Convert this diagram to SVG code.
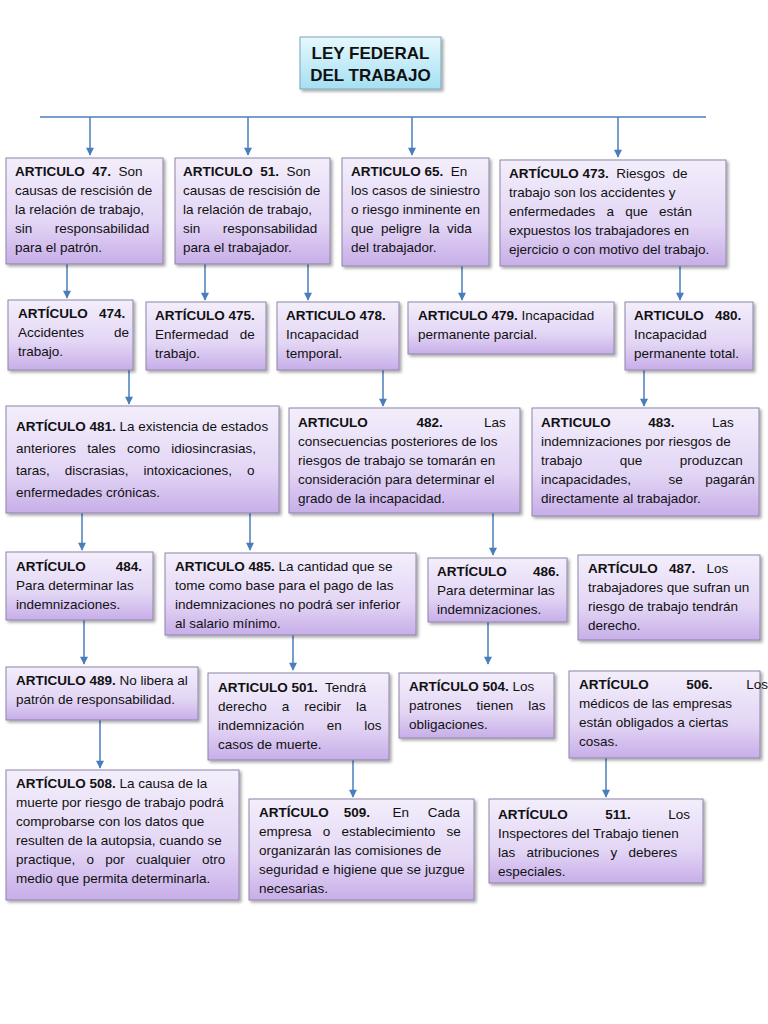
<svg xmlns="http://www.w3.org/2000/svg" width="768" height="1024" viewBox="0 0 768 1024">
<defs>
<linearGradient id="pg" x1="0" y1="0" x2="0" y2="1"><stop offset="0" stop-color="#f3eefb"/><stop offset="0.6" stop-color="#e3d6f5"/><stop offset="1" stop-color="#c7aee8"/></linearGradient>
<linearGradient id="cg" x1="0" y1="0" x2="0" y2="1"><stop offset="0" stop-color="#e6f8fd"/><stop offset="1" stop-color="#a5e0f3"/></linearGradient>
<marker id="ar" viewBox="0 0 10 10" refX="9" refY="5" markerWidth="9" markerHeight="8" orient="auto" markerUnits="userSpaceOnUse"><path d="M0,0 L10,5 L0,10 z" fill="#4a7ebb"/></marker>
<filter id="sh" x="-5%" y="-5%" width="115%" height="120%"><feDropShadow dx="2" dy="2" stdDeviation="1.5" flood-color="#000" flood-opacity="0.35"/></filter>
</defs>
<style>
.b{fill:url(#pg);stroke:#8f84a8;stroke-width:1;filter:url(#sh)}
.t{font-family:"Liberation Sans",Arial,sans-serif;font-size:13.5px;fill:#111;white-space:pre}
.h{font-weight:bold}
.ti{font-family:"Liberation Sans",Arial,sans-serif;font-size:17px;font-weight:bold;fill:#111}
.c{stroke:#4a7ebb;stroke-width:1.5;fill:none}
.c.a{marker-end:url(#ar)}
</style>
<rect width="768" height="1024" fill="#fff"/>
<g id="title"><rect x="300" y="37" width="141" height="52" fill="url(#cg)" stroke="#7aa6b8" filter="url(#sh)"/>
<text class="ti" x="370.5" y="59" text-anchor="middle">LEY FEDERAL</text><text class="ti" x="370.5" y="81" text-anchor="middle">DEL TRABAJO</text></g>
<g id="connectors">
<line class="c" x1="40" y1="117" x2="706" y2="117"/>
<line class="c a" x1="90" y1="117" x2="90" y2="155"/>
<line class="c a" x1="248" y1="117" x2="248" y2="155"/>
<line class="c a" x1="412" y1="117" x2="412" y2="155"/>
<line class="c a" x1="618" y1="117" x2="618" y2="157"/>
<line class="c a" x1="67" y1="264" x2="67" y2="298"/>
<line class="c a" x1="205" y1="264" x2="205" y2="300"/>
<line class="c a" x1="308" y1="264" x2="308" y2="300"/>
<line class="c a" x1="462" y1="266" x2="462" y2="300"/>
<line class="c a" x1="680" y1="266" x2="680" y2="300"/>
<line class="c a" x1="129" y1="370" x2="129" y2="404"/>
<line class="c a" x1="383" y1="370" x2="383" y2="406"/>
<line class="c a" x1="644" y1="370" x2="644" y2="406"/>
<line class="c a" x1="82" y1="513" x2="82" y2="550"/>
<line class="c a" x1="250" y1="513" x2="250" y2="550"/>
<line class="c a" x1="493" y1="513" x2="493" y2="555"/>
<line class="c a" x1="84" y1="620" x2="84" y2="664"/>
<line class="c a" x1="293" y1="635" x2="293" y2="670"/>
<line class="c a" x1="488" y1="622" x2="488" y2="664"/>
<line class="c a" x1="100" y1="720" x2="100" y2="768"/>
<line class="c a" x1="353" y1="760" x2="353" y2="797"/>
<line class="c a" x1="606" y1="758" x2="606" y2="797"/>
</g>
<g id="a47"><rect class="b" x="6" y="158" width="157" height="106"/><text class="t" x="15" y="176"><tspan class="h">ARTICULO  47.</tspan>  Son</text><text class="t" x="15" y="195">causas de rescisión de</text><text class="t" x="15" y="214">la relación de trabajo,</text><text class="t" x="15" y="233">sin      responsabilidad</text><text class="t" x="15" y="252">para el patrón.</text></g>
<g id="a51"><rect class="b" x="175" y="158" width="155" height="106"/><text class="t" x="183" y="176"><tspan class="h">ARTICULO  51.</tspan>  Son</text><text class="t" x="183" y="195">causas de rescisión de</text><text class="t" x="183" y="214">la relación de trabajo,</text><text class="t" x="183" y="233">sin      responsabilidad</text><text class="t" x="183" y="252">para el trabajador.</text></g>
<g id="a65"><rect class="b" x="342" y="158" width="147" height="108"/><text class="t" x="351" y="176"><tspan class="h">ARTICULO 65.</tspan>  En</text><text class="t" x="351" y="195">los casos de siniestro</text><text class="t" x="351" y="214">o riesgo inminente en</text><text class="t" x="351" y="233">que  peligre  la  vida</text><text class="t" x="351" y="252">del trabajador.</text></g>
<g id="a473"><rect class="b" x="500" y="160" width="226" height="106"/><text class="t" x="509" y="178"><tspan class="h">ARTÍCULO 473.</tspan>  Riesgos  de</text><text class="t" x="509" y="197">trabajo son los accidentes y</text><text class="t" x="509" y="216">enfermedades   a   que   están</text><text class="t" x="509" y="235">expuestos los trabajadores en</text><text class="t" x="509" y="254">ejercicio o con motivo del trabajo.</text></g>
<g id="a474"><rect class="b" x="8" y="300" width="125" height="70"/><text class="t" x="18" y="318"><tspan class="h">ARTÍCULO   474.</tspan></text><text class="t" x="18" y="337">Accidentes        de</text><text class="t" x="18" y="356">trabajo.</text></g>
<g id="a475"><rect class="b" x="146" y="302" width="120" height="68"/><text class="t" x="155" y="320"><tspan class="h">ARTÍCULO 475.</tspan></text><text class="t" x="155" y="339">Enfermedad   de</text><text class="t" x="155" y="358">trabajo.</text></g>
<g id="a478"><rect class="b" x="277" y="302" width="122" height="68"/><text class="t" x="286" y="320"><tspan class="h">ARTICULO 478.</tspan></text><text class="t" x="286" y="339">Incapacidad</text><text class="t" x="286" y="358">temporal.</text></g>
<g id="a479"><rect class="b" x="408" y="302" width="206" height="52"/><text class="t" x="418" y="320"><tspan class="h">ARTICULO 479.</tspan> Incapacidad</text><text class="t" x="418" y="339">permanente parcial.</text></g>
<g id="a480"><rect class="b" x="625" y="302" width="128" height="68"/><text class="t" x="634" y="320"><tspan class="h">ARTICULO   480.</tspan></text><text class="t" x="634" y="339">Incapacidad</text><text class="t" x="634" y="358">permanente total.</text></g>
<g id="a481"><rect class="b" x="6" y="406" width="273" height="107"/><text class="t" x="16" y="431"><tspan class="h">ARTÍCULO 481.</tspan> La existencia de estados</text><text class="t" x="16" y="453">anteriores   tales   como   idiosincrasias,</text><text class="t" x="16" y="475">taras,    discrasias,    intoxicaciones,    o</text><text class="t" x="16" y="497">enfermedades crónicas.</text></g>
<g id="a482"><rect class="b" x="289" y="408" width="231" height="105"/><text class="t" x="298" y="427"><tspan class="h">ARTICULO             482.</tspan>           Las</text><text class="t" x="298" y="446">consecuencias posteriores de los</text><text class="t" x="298" y="465">riesgos de trabajo se tomarán en</text><text class="t" x="298" y="484">consideración para determinar el</text><text class="t" x="298" y="503">grado de la incapacidad.</text></g>
<g id="a483"><rect class="b" x="532" y="408" width="227" height="108"/><text class="t" x="541" y="427"><tspan class="h">ARTICULO          483.</tspan>          Las</text><text class="t" x="541" y="446">indemnizaciones por riesgos de</text><text class="t" x="541" y="465">trabajo          que          produzcan</text><text class="t" x="541" y="484">incapacidades,          se      pagarán</text><text class="t" x="541" y="503">directamente al trabajador.</text></g>
<g id="a484"><rect class="b" x="6" y="552" width="147" height="68"/><text class="t" x="16" y="571"><tspan class="h">ARTÍCULO        484.</tspan></text><text class="t" x="16" y="590">Para determinar las</text><text class="t" x="16" y="609">indemnizaciones.</text></g>
<g id="a485"><rect class="b" x="165" y="553" width="251" height="82"/><text class="t" x="175" y="571"><tspan class="h">ARTICULO 485.</tspan> La cantidad que se</text><text class="t" x="175" y="590">tome como base para el pago de las</text><text class="t" x="175" y="609">indemnizaciones no podrá ser inferior</text><text class="t" x="175" y="628">al salario mínimo.</text></g>
<g id="a486"><rect class="b" x="428" y="558" width="139" height="64"/><text class="t" x="437" y="576"><tspan class="h">ARTÍCULO       486.</tspan></text><text class="t" x="437" y="595">Para determinar las</text><text class="t" x="437" y="614">indemnizaciones.</text></g>
<g id="a487"><rect class="b" x="578" y="555" width="182" height="85"/><text class="t" x="588" y="573"><tspan class="h">ARTÍCULO   487.</tspan>   Los</text><text class="t" x="588" y="592">trabajadores que sufran un</text><text class="t" x="588" y="611">riesgo de trabajo tendrán</text><text class="t" x="588" y="630">derecho.</text></g>
<g id="a489"><rect class="b" x="6" y="667" width="192" height="53"/><text class="t" x="16" y="685"><tspan class="h">ARTICULO 489.</tspan> No libera al</text><text class="t" x="16" y="704">patrón de responsabilidad.</text></g>
<g id="a501"><rect class="b" x="208" y="673" width="181" height="87"/><text class="t" x="218" y="692"><tspan class="h">ARTICULO 501.</tspan>  Tendrá</text><text class="t" x="218" y="711">derecho    a    recibir    la</text><text class="t" x="218" y="730">indemnización      en      los</text><text class="t" x="218" y="749">casos de muerte.</text></g>
<g id="a504"><rect class="b" x="399" y="673" width="155" height="65"/><text class="t" x="409" y="691"><tspan class="h">ARTÍCULO 504.</tspan> Los</text><text class="t" x="409" y="710">patrones    tienen    las</text><text class="t" x="409" y="729">obligaciones.</text></g>
<g id="a506"><rect class="b" x="569" y="671" width="191" height="87"/><text class="t" x="579" y="689"><tspan class="h">ARTÍCULO          506.</tspan>         Los</text><text class="t" x="579" y="708">médicos de las empresas</text><text class="t" x="579" y="727">están obligados a ciertas</text><text class="t" x="579" y="746">cosas.</text></g>
<g id="a508"><rect class="b" x="6" y="770" width="233" height="130"/><text class="t" x="16" y="788"><tspan class="h">ARTÍCULO 508.</tspan> La causa de la</text><text class="t" x="16" y="807">muerte por riesgo de trabajo podrá</text><text class="t" x="16" y="826">comprobarse con los datos que</text><text class="t" x="16" y="845">resulten de la autopsia, cuando se</text><text class="t" x="16" y="864">practique,   o   por   cualquier   otro</text><text class="t" x="16" y="883">medio que permita determinarla.</text></g>
<g id="a509"><rect class="b" x="249" y="799" width="225" height="101"/><text class="t" x="259" y="817"><tspan class="h">ARTÍCULO    509.</tspan>      En     Cada</text><text class="t" x="259" y="836">empresa   o   establecimiento   se</text><text class="t" x="259" y="855">organizarán las comisiones de</text><text class="t" x="259" y="874">seguridad e higiene que se juzgue</text><text class="t" x="259" y="893">necesarias.</text></g>
<g id="a511"><rect class="b" x="489" y="799" width="214" height="84"/><text class="t" x="498" y="819"><tspan class="h">ARTÍCULO          511.</tspan>          Los</text><text class="t" x="498" y="838">Inspectores del Trabajo tienen</text><text class="t" x="498" y="857">las   atribuciones   y   deberes</text><text class="t" x="498" y="876">especiales.</text></g>
</svg>
